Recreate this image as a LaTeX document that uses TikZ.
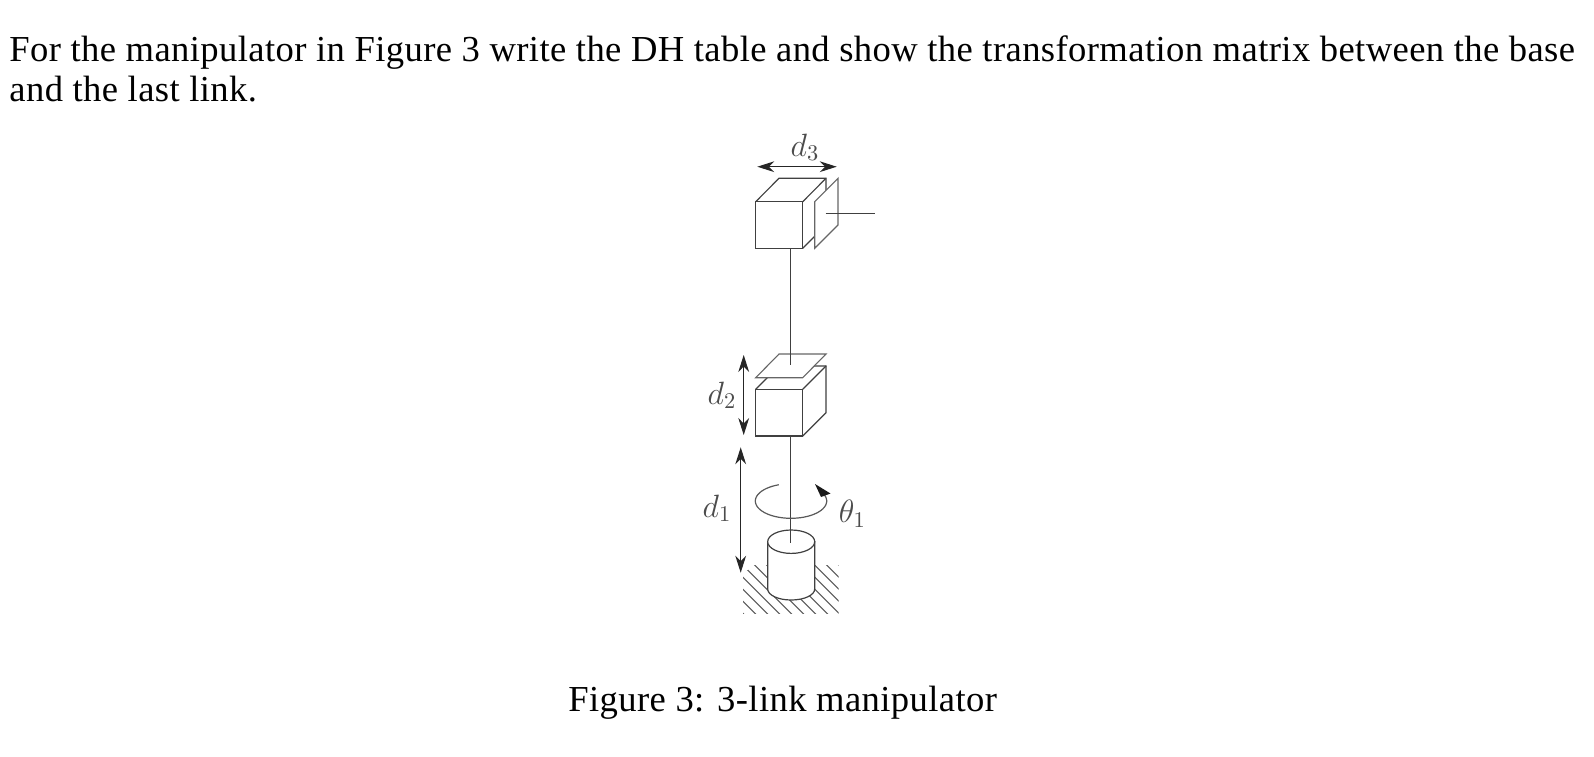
\documentclass[tikz,border=0pt]{standalone}
\usepackage[no-math]{fontspec}
\setmainfont[LetterSpace=1.1]{Liberation Serif}
\usetikzlibrary{arrows.meta}
\begin{document}
\begin{tikzpicture}[x=0.5pt,y=-0.5pt,
  edge/.style={draw=black!75,line width=0.6pt,line join=miter},
  faint/.style={draw=black!60,line width=0.55pt,fill=white},
  solid body/.style={draw=black!75,line width=0.6pt,fill=white},
  hatchline/.style={draw=black!65,line width=0.5pt},
  para/.style={font=\fontsize{18.3}{20}\selectfont,inner sep=0pt,anchor=base west,text=black},
  lab/.style={font=\fontsize{14.4}{16}\selectfont,text=black!70,inner sep=0pt,anchor=base,scale=1.12},
  dimarrow/.style={draw=black!85,line width=0.55pt,{Stealth[length=8.5pt,width=5.4pt]}-{Stealth[length=8.5pt,width=5.4pt]}}]
\useasboundingbox (0,0) rectangle (1594,756);
\fill[white] (0,0) rectangle (1594,756);
% text
\node[para] (line1) at (9,61.7) {For the manipulator in Figure 3 write the DH table and show the transformation matrix between the base};
\node[para] (line2) at (9,101.7) {and the last link.};
\node[para] (caption) at (568,711.7) {Figure 3: 3-link manipulator};
% hatching
\begin{scope}
\clip (743,565) rectangle (838.5,613);
\foreach \k in {-5,...,7}{
  \pgfmathsetmacro{\c}{189.7+12*\k}
  \draw[hatchline] ({565+\c-5},560) -- ({620+\c},620);
}
\fill[white] (742,564) rectangle (747.7,570);
\end{scope}
% cylinder
\path[solid body] (767.7,541.7) -- (767.7,589) .. controls (767.7,595) and (778,600) .. (791.2,600) .. controls (804.4,600) and (814.7,595) .. (814.7,589) -- (814.7,541.7) -- cycle;
\draw[solid body] (791.2,541.7) ellipse [x radius=23.5, y radius=11.7];
% shafts
\coordinate (shaft2top) at (790.7,436);
\coordinate (shaft2bot) at (790.7,542.7);
\coordinate (shaft1top) at (790.7,248.3);
\coordinate (shaft1bot) at (790.7,365);
\draw[edge] (shaft2top) -- (shaft2bot);
% rotation arrow
\draw[edge,draw=black!65] plot[domain=250:-38,samples=50,smooth] ({791+35.7*cos(\x)},{501+17.3*sin(\x)});
\fill[black!90] (815,484) -- (830.5,493.5) -- (821,497) -- cycle;
% lower cube
\draw[solid body] (755.7,389.3) -- (779,366) -- (826,366) -- (826,412.7) -- (802.7,436) -- (755.7,436) -- cycle;
\draw[solid body] (755.7,389.3) rectangle (802.7,436);
\draw[edge] (802.7,389.3) -- (826,366);
% plate above lower cube
\draw[faint] (755.7,377.7) -- (802.7,377.7) -- (826,354) -- (779,354) -- cycle;
\draw[edge] (shaft1top) -- (shaft1bot);
% upper cube
\draw[solid body] (755.7,201.7) -- (779,178.3) -- (826,178.3) -- (826,225) -- (802.7,248.3) -- (755.7,248.3) -- cycle;
\draw[solid body] (755.7,201.7) rectangle (802.7,248.3);
\draw[edge] (802.7,201.7) -- (826,178.3);
% side plate
\draw[faint] (814.7,201.7) -- (838,178.3) -- (838,225) -- (814.7,248.3) -- cycle;
\coordinate (toolL) at (825.7,213.3);
\coordinate (toolR) at (875,213.3);
\draw[edge] (toolL) -- (toolR);
% dimensions
\coordinate (d3L) at (757.3,166.7);
\coordinate (d3R) at (836.7,166.7);
\coordinate (d2T) at (743.7,355);
\coordinate (d2B) at (743.7,435);
\coordinate (d1T) at (740.7,447.3);
\coordinate (d1B) at (740.7,572.7);
\draw[dimarrow] (d3L) -- (d3R);
\draw[dimarrow] (d2T) -- (d2B);
\draw[dimarrow] (d1T) -- (d1B);
% labels
\node[lab] (ld3) at (805,156) {$d_3$};
\node[lab] (ld2) at (722,404) {$d_2$};
\node[lab] (ld1) at (717,517) {$d_1$};
\node[lab] (lt1) at (852.5,522.7) {$\theta_1$};
\end{tikzpicture}
\end{document}
